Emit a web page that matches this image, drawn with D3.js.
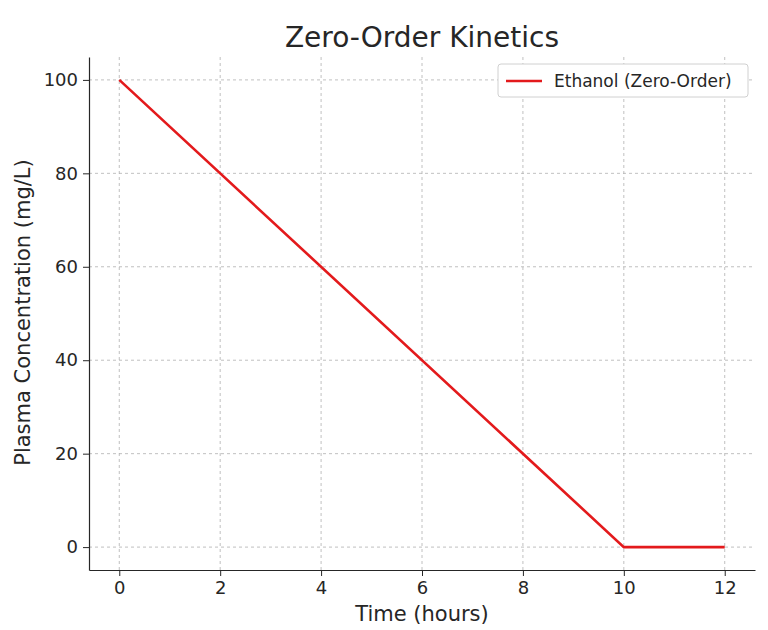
<!DOCTYPE html>
<html><head><meta charset="utf-8">
<script src="https://cdn.jsdelivr.net/npm/d3@7"></script>
<style>body{margin:0;background:#fff}text{font-family:"DejaVu Sans",sans-serif;fill:#262626}</style>
</head><body><svg id="c" width="768" height="630"></svg>
<script>
const times = [0, 10, 12];
const concentration = [100, 0, 0];
const xTicks = [0, 2, 4, 6, 8, 10, 12];
const yTicks = [0, 20, 40, 60, 80, 100];
const seriesName = "Ethanol (Zero-Order)";

const svg = d3.select("#c");
const m = {l: 89, r: 13, t: 57, b: 60};
const W = 768, H = 630;
const x = d3.scaleLinear().domain([-0.6, 12.6]).range([m.l, W - m.r]);
const y = d3.scaleLinear().domain([-4.9, 104.9]).range([H - m.b, m.t]);

// grid
svg.append("g").selectAll("line").data(xTicks).join("line")
  .attr("x1", d => x(d)).attr("x2", d => x(d)).attr("y1", m.t).attr("y2", H - m.b)
  .attr("stroke", "#b0b0b0").attr("stroke-dasharray", "3,3").attr("stroke-width", 0.8);
svg.append("g").selectAll("line").data(yTicks).join("line")
  .attr("y1", d => y(d)).attr("y2", d => y(d)).attr("x1", m.l).attr("x2", W - m.r)
  .attr("stroke", "#b0b0b0").attr("stroke-dasharray", "3,3").attr("stroke-width", 0.8);

// axes
const xa = svg.append("g").attr("transform", `translate(0,${H - m.b})`)
  .call(d3.axisBottom(x).tickValues(xTicks).tickSize(6).tickPadding(5).tickSizeOuter(0));
const ya = svg.append("g").attr("transform", `translate(${m.l},0)`)
  .call(d3.axisLeft(y).tickValues(yTicks).tickSize(6).tickPadding(5).tickSizeOuter(0));
[xa, ya].forEach(a => {
  a.selectAll("text").style("font-size", "18px").style("font-family", "DejaVu Sans").attr("fill", "#262626");
  a.select(".domain").attr("stroke", "#262626").attr("stroke-width", 1.2);
  a.selectAll(".tick line").attr("stroke", "#262626");
});

// line
svg.append("path").datum(concentration).attr("d", d3.line().x((d, i) => x(times[i])).y(d => y(d)))
  .attr("fill", "none").attr("stroke", "#e31a1c").attr("stroke-width", 2.6);

// labels
svg.append("text").attr("x", (m.l + W - m.r) / 2).attr("y", 47).attr("text-anchor", "middle")
  .style("font-size", "28px").text("Zero-Order Kinetics");
svg.append("text").attr("x", (m.l + W - m.r) / 2).attr("y", 621).attr("text-anchor", "middle")
  .style("font-size", "21px").text("Time (hours)");
svg.append("text").attr("transform", `translate(30,${(m.t + H - m.b) / 2 - 1}) rotate(-90)`)
  .attr("text-anchor", "middle").style("font-size", "21px").text("Plasma Concentration (mg/L)");

// legend
const lg = svg.append("g").attr("transform", "translate(498,64)");
lg.append("rect").attr("width", 250).attr("height", 33).attr("rx", 3)
  .attr("fill", "#fff").attr("stroke", "#d0d0d0");
lg.append("line").attr("x1", 8).attr("x2", 44).attr("y1", 17).attr("y2", 17)
  .attr("stroke", "#e31a1c").attr("stroke-width", 2.6);
lg.append("text").attr("x", 56).attr("y", 23).style("font-size", "17px").text(seriesName);
</script></body></html>
